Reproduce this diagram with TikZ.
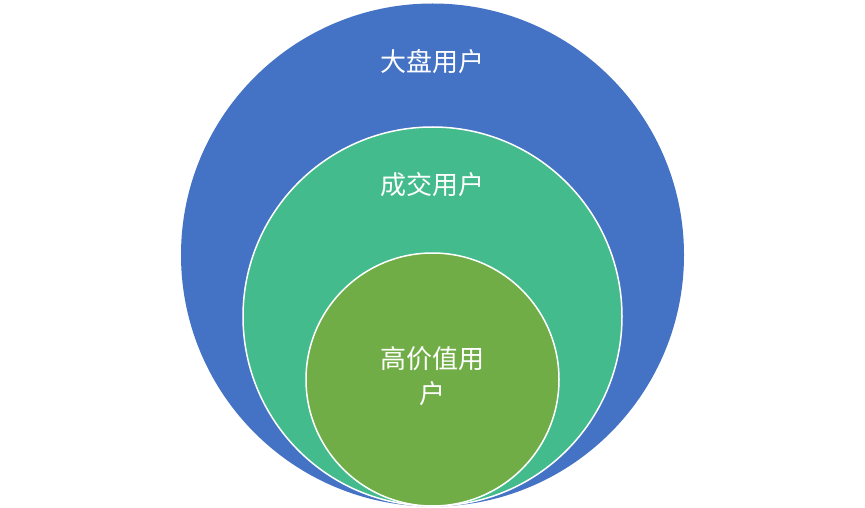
\documentclass[tikz,border=0pt]{standalone}
\usepackage{fontspec}
\newfontfamily\cjk{Noto Sans CJK SC}
\definecolor{bigblue}{HTML}{4472C4}
\definecolor{dealgreen}{HTML}{44BB8C}
\definecolor{valgreen}{HTML}{70AD47}
\begin{document}
\begin{tikzpicture}[x=1pt, y=1pt]
		\tikzstyle{ring}=[
		draw=white,
		line width=1.5pt,
		circle]
		\tikzstyle{label}=[
		text=white,
		align=center,
		font=\cjk\fontsize{26}{35}\selectfont]
		\useasboundingbox (0,0) rectangle (865,507);
		\fill[bigblue] (432.5,252) circle (251.5);
		\draw[ring, fill=dealgreen] (432.5,190.5) circle (189.5);
		\draw[ring, fill=valgreen] (432.5,127.5) circle (126.5);
		%
		\node[label] (all) at (432.5,445) {大盘用户};
		\node[label] (deal) at (432.5,322) {成交用户};
		\node[label] (value) at (432.5,131) {高价值用\\户};
\end{tikzpicture}
\end{document}
